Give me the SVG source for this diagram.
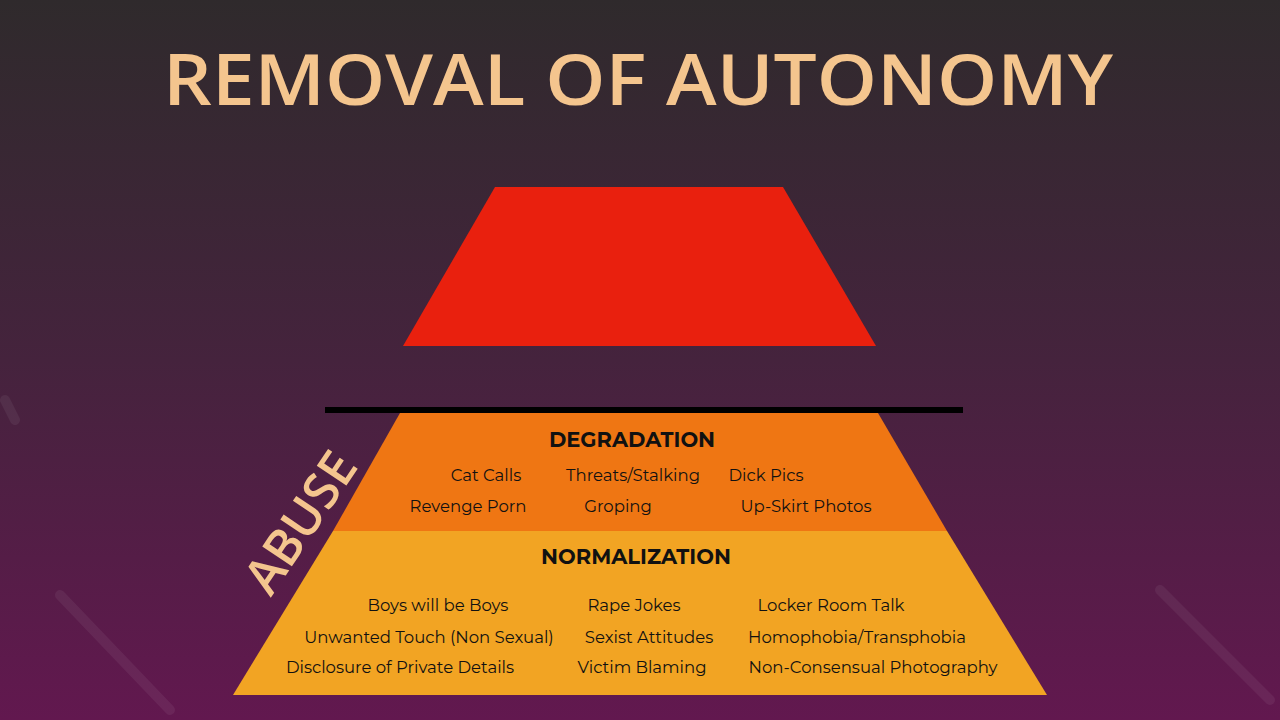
<svg xmlns="http://www.w3.org/2000/svg" width="1280" height="720" viewBox="0 0 1280 720">
<defs>
<linearGradient id="bg" x1="0" y1="0" x2="0" y2="1">
<stop offset="0" stop-color="#2f2a2c"/>
<stop offset="0.5" stop-color="#45233d"/>
<stop offset="1" stop-color="#62184f"/>
</linearGradient>
<style>
.t{font-family:"Montserrat","Open Sans","Liberation Sans",sans-serif;fill:#111}
.h{font-weight:bold;font-size:21px;text-anchor:middle}
.i{font-size:16.5px;text-anchor:middle}
.ti{font-family:"Open Sans","Liberation Sans",sans-serif;font-weight:600;fill:#f4c58e}
</style>
</defs>
<rect width="1280" height="720" fill="url(#bg)"/>
<g stroke="#ffffff" stroke-opacity="0.06" stroke-width="10" stroke-linecap="round">
<line x1="60" y1="595" x2="170" y2="710"/>
<line x1="5" y1="400" x2="15" y2="420"/>
<line x1="1160" y1="590" x2="1270" y2="700"/>
</g>
<text class="ti" x="638" y="105" font-size="70" text-anchor="middle" textLength="950" lengthAdjust="spacingAndGlyphs">REMOVAL OF AUTONOMY</text>
<g id="top"><polygon points="495,187 783,187 876,346 403,346" fill="#e9200e"/></g>
<g id="connectors"><line x1="325" y1="410" x2="963" y2="410" stroke="#000" stroke-width="6"/></g>
<g id="degradation">
<polygon points="400,413 878,413 947,531 333,531" fill="#ef7613"/>
<text class="t h" x="632" y="447">DEGRADATION</text>
<text class="t i" x="486" y="481">Cat Calls</text>
<text class="t i" x="633" y="481">Threats/Stalking</text>
<text class="t i" x="766" y="481">Dick Pics</text>
<text class="t i" x="468" y="512">Revenge Porn</text>
<text class="t i" x="618" y="512">Groping</text>
<text class="t i" x="806" y="512">Up-Skirt Photos</text>
</g>
<g id="normalization">
<polygon points="333,531 947,531 1047,695 233,695" fill="#f2a423"/>
<text class="t h" x="636" y="564">NORMALIZATION</text>
<text class="t i" x="438" y="611">Boys will be Boys</text>
<text class="t i" x="634" y="611">Rape Jokes</text>
<text class="t i" x="831" y="611">Locker Room Talk</text>
<text class="t i" x="429" y="643">Unwanted Touch (Non Sexual)</text>
<text class="t i" x="649" y="643">Sexist Attitudes</text>
<text class="t i" x="857" y="643">Homophobia/Transphobia</text>
<text class="t i" x="400" y="673">Disclosure of Private Details</text>
<text class="t i" x="642" y="673">Victim Blaming</text>
<text class="t i" x="873" y="673">Non-Consensual Photography</text>
</g>
<text class="ti" font-size="50" text-anchor="middle" transform="translate(315,532) rotate(-56)">ABUSE</text>
</svg>
